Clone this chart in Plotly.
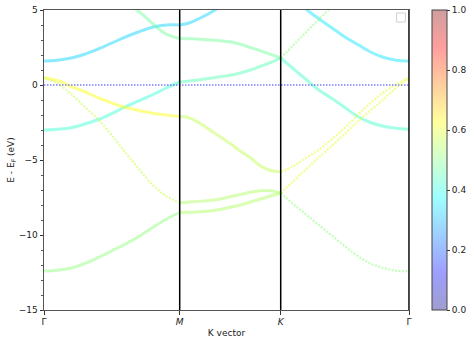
import plotly.graph_objects as go
from plotly.colors import sample_colorscale

# ---------------- data ----------------
# high-symmetry points along the path (x positions, arbitrary k units)
k_nodes = [0.0, 1.357, 2.367, 3.650]
k_labels = ["Γ", "<i>M</i>", "<i>K</i>", "Γ"]
# fractional sample positions inside each path segment
k_frac = [0.0, 0.1, 0.2, 0.3, 0.4, 0.5, 0.6, 0.7, 0.8, 0.9, 1.0]

# energies (eV, relative to E_F) per band, per segment: [Γ-M, M-K, K-Γ]
band_G = [
    [1.6, 1.65, 1.8, 2.05, 2.4, 2.8, 3.2, 3.55, 3.85, 4.0, 4.0],
    [4.0, 4.15, 4.45, 4.8, 5.2, 5.6, 6.0, 6.3, 6.5, 6.6, 6.7],
    [6.7, 5.9, 5.05, 4.4, 3.8, 3.2, 2.7, 2.2, 1.85, 1.65, 1.6],
]
band_F = [
    [9.5, 9.2, 8.7, 8.0, 7.2, 6.3, 5.5, 4.9, 4.1, 3.4, 3.1],
    [3.1, 3.08, 3.05, 3.0, 2.95, 2.88, 2.72, 2.5, 2.28, 2.04, 1.8],
    [1.8, 2.67, 3.54, 4.4, 5.25, 6.1, 6.9, 7.6, 8.2, 8.55, 8.7],
]
band_E = [
    [-3.0, -2.95, -2.85, -2.6, -2.3, -1.9, -1.45, -1.05, -0.65, -0.2, 0.2],
    [0.2, 0.27, 0.35, 0.45, 0.55, 0.65, 0.8, 1.0, 1.25, 1.5, 1.8],
    [1.8, 1.07, 0.35, -0.35, -0.9, -1.5, -2.1, -2.5, -2.75, -2.88, -2.95],
]
band_A = [
    [0.47, 0.3, -0.1, -0.45, -0.85, -1.2, -1.5, -1.7, -1.88, -2.0, -2.1],
    [-2.1, -2.2, -2.55, -3.0, -3.45, -3.9, -4.4, -4.85, -5.4, -5.7, -5.78],
    [-5.78, -5.4, -4.85, -4.3, -3.6, -2.85, -2.0, -1.2, -0.5, 0.05, 0.47],
]
band_C = [
    [0.47, 0.1, -0.6, -1.45, -2.3, -3.35, -4.5, -5.6, -6.65, -7.4, -7.85],
    [-7.85, -7.8, -7.75, -7.7, -7.6, -7.45, -7.3, -7.15, -7.05, -7.05, -7.2],
    [-7.2, -6.4, -5.6, -4.8, -4.05, -3.25, -2.45, -1.7, -0.95, -0.2, 0.45],
]
band_D = [
    [-12.4, -12.35, -12.2, -11.9, -11.5, -11.05, -10.6, -10.1, -9.5, -8.95, -8.5],
    [-8.5, -8.48, -8.45, -8.4, -8.3, -8.15, -8.0, -7.8, -7.6, -7.4, -7.2],
    [-7.2, -7.95, -8.65, -9.35, -10.05, -10.75, -11.4, -11.9, -12.2, -12.38, -12.42],
]
# projected weight (colour value) per band, per segment
weight_G = [0.33, 0.33, 0.35]
weight_F = [0.48, 0.48, 0.51]
weight_E = [0.42, 0.45, 0.43]
weight_A = [0.62, 0.56, 0.60]
weight_C = [0.57, 0.54, 0.60]
weight_D = [0.51, 0.54, 0.51]

bands = [band_G, band_F, band_E, band_A, band_C, band_D]
weights = [weight_G, weight_F, weight_E, weight_A, weight_C, weight_D]
# line style per band per segment (steep parts are sparse dots in the original)
styles = [
    ["solid", "solid", "solid"],
    ["solid", "solid", "dot"],
    ["solid", "solid", "solid"],
    ["solid", "solid", "dot"],
    ["dot", "solid", "dot"],
    ["solid", "solid", "dot"],
]

# ---------------- colour scale (matplotlib-like jet) ----------------
def _jet(v):
    def c(x):
        return max(0.0, min(1.0, x))
    return (c(1.5 - abs(4 * v - 3)), c(1.5 - abs(4 * v - 2)), c(1.5 - abs(4 * v - 1)))

stops = [i / 40 for i in range(41)]
jet_scale = [[s, "rgb(%d,%d,%d)" % tuple(int(round(255 * q)) for q in _jet(s))] for s in stops]
jet_scale_faded = [[s, "rgba(%d,%d,%d,0.38)" % tuple(int(round(255 * q)) for q in _jet(s))] for s in stops]


def line_color(w, alpha):
    rgb = sample_colorscale(jet_scale, [w])[0]
    nums = rgb[rgb.index("(") + 1:rgb.index(")")]
    return "rgba(%s,%.2f)" % (nums, alpha)


fig = go.Figure()

for band, wts, sty in zip(bands, weights, styles):
    for seg in range(3):
        x0, x1 = k_nodes[seg], k_nodes[seg + 1]
        xs = [x0 + f * (x1 - x0) for f in k_frac]
        dotted = sty[seg] == "dot"
        fig.add_trace(go.Scatter(
            x=xs, y=band[seg], mode="lines", showlegend=False, hoverinfo="skip",
            line=dict(shape="spline", smoothing=1.0,
                      width=2.2 if dotted else 3.0,
                      dash="2px,1.5px" if dotted else "solid",
                      color=line_color(wts[seg], 0.5 if dotted else 0.45)),
        ))

# colour bar carrier
fig.add_trace(go.Scatter(
    x=[None], y=[None], mode="markers", showlegend=False, hoverinfo="skip",
    marker=dict(color=[0.5], cmin=0, cmax=1, colorscale=jet_scale_faded, showscale=True,
                colorbar=dict(x=1.063, xanchor="left", y=0.5, yanchor="middle",
                              len=1.0, lenmode="fraction", thickness=15,
                              xpad=0, ypad=0,
                              outlinewidth=1, outlinecolor="#444",
                              tickvals=[0, 0.2, 0.4, 0.6, 0.8, 1.0],
                              ticktext=["0.0", "0.2", "0.4", "0.6", "0.8", "1.0"],
                              ticks="outside", ticklen=3, tickcolor="#333",
                              tickfont=dict(size=9, color="#222"))),
))

shapes = []
# Fermi level
shapes.append(dict(type="line", xref="x", yref="y", x0=k_nodes[0], x1=k_nodes[-1], y0=0, y1=0,
                   line=dict(color="rgb(60,60,255)", width=1, dash="1.5px,1.5px")))
# high-symmetry verticals
for kx in k_nodes[1:]:
    shapes.append(dict(type="line", xref="x", yref="paper", x0=kx, x1=kx, y0=0, y1=1,
                       line=dict(color="black", width=1.5)))
# empty legend frame (top right)
shapes.append(dict(type="rect", xref="paper", yref="paper", x0=0.966, x1=0.99, y0=0.96, y1=0.99,
                   line=dict(color="#d0d0d0", width=1)))

fig.update_layout(
    width=474, height=343,
    margin=dict(l=44, r=65, t=10, b=33, autoexpand=False),
    paper_bgcolor="white", plot_bgcolor="white",
    font=dict(family="DejaVu Sans", size=9, color="#222"),
    shapes=shapes,
    xaxis=dict(range=[k_nodes[0], k_nodes[-1]], tickvals=k_nodes, ticktext=k_labels,
               showgrid=False, zeroline=False, showline=True, mirror=True,
               linecolor="#555", linewidth=1, ticks="outside", ticklen=3.5, tickcolor="#333",
               title=dict(text="K vector", standoff=3, font=dict(size=9))),
    yaxis=dict(range=[-15, 5], tickvals=[-15, -10, -5, 0, 5], showgrid=False, zeroline=False,
               showline=True, mirror=True, linecolor="#555", linewidth=1,
               ticks="outside", ticklen=3.5, tickcolor="#333",
               minor=dict(dtick=1, ticks="outside", ticklen=2, tickcolor="#555"),
               title=dict(text="E - E<sub><i>F</i></sub> (eV)", standoff=2, font=dict(size=9))),
)

fig.write_html("out.html")
